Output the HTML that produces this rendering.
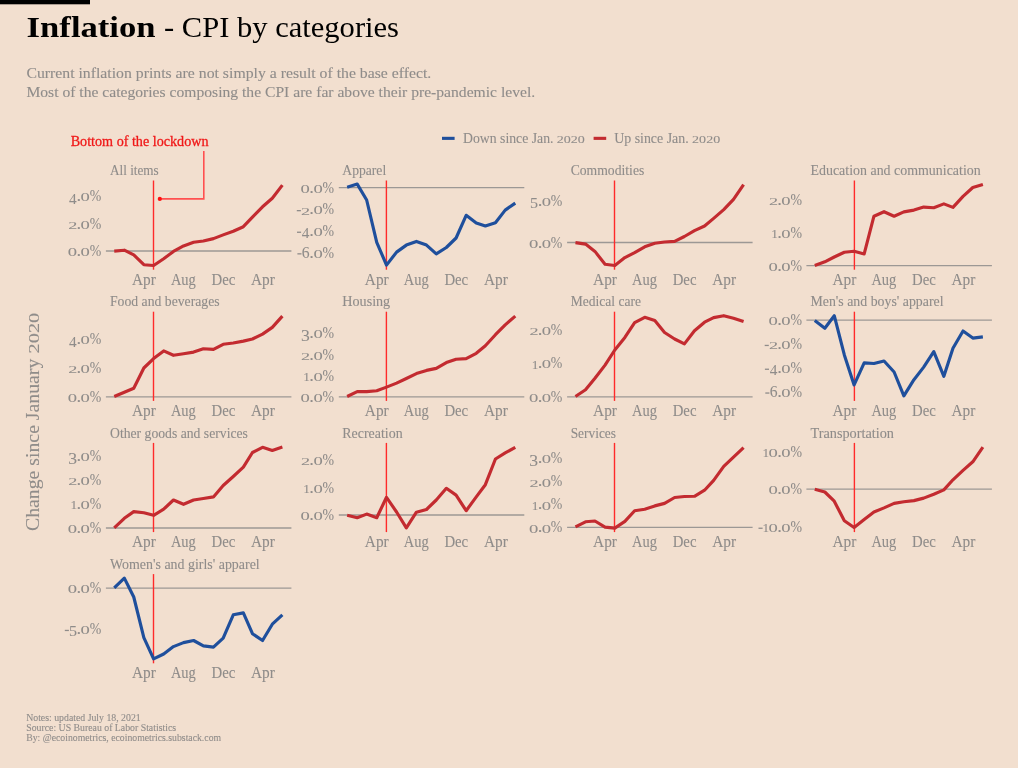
<!DOCTYPE html><html><head><meta charset="utf-8"><style>html,body{margin:0;padding:0;background:#f2dfcf;overflow:hidden}svg{display:block;will-change:transform}</style></head><body>
<svg width="1018" height="768" viewBox="0 0 1018 768" font-family="&quot;Liberation Serif&quot;, serif">
<rect x="0" y="0" width="1018" height="768" fill="#f2dfcf"/>
<rect x="0" y="0" width="90" height="4.3" fill="#000"/>
<text x="26.6" y="36.9" font-size="30.4" font-weight="bold" fill="#000" textLength="129" lengthAdjust="spacingAndGlyphs">Inflation</text>
<text x="164" y="36.9" font-size="30.4" fill="#000" textLength="235" lengthAdjust="spacingAndGlyphs">- CPI by categories</text>
<text x="26.4" y="77.9" font-size="14.9" fill="#8f8c8a" stroke="#8f8c8a" stroke-width="0.1" textLength="404.9" lengthAdjust="spacingAndGlyphs">Current inflation prints are not simply a result of the base effect.</text>
<text x="26.4" y="97" font-size="14.9" fill="#8f8c8a" stroke="#8f8c8a" stroke-width="0.1" textLength="508.8" lengthAdjust="spacingAndGlyphs">Most of the categories composing the CPI are far above their pre-pandemic level.</text>
<rect x="442" y="136.8" width="12.6" height="3.1" fill="#1f4f9c"/>
<text x="463" y="143" font-size="13.6" fill="#8f8c8a" stroke="#8f8c8a" stroke-width="0.1" textLength="90.5" lengthAdjust="spacingAndGlyphs">Down since Jan.</text>
<text transform="translate(556.8,143.2) scale(1,0.75)" font-size="13.6" fill="#8f8c8a" stroke="#8f8c8a" stroke-width="0.1" textLength="28.1" lengthAdjust="spacingAndGlyphs">2020</text>
<rect x="593.6" y="136.8" width="12.6" height="3.1" fill="#c32b30"/>
<text x="614.2" y="143" font-size="13.6" fill="#8f8c8a" stroke="#8f8c8a" stroke-width="0.1" textLength="74.5" lengthAdjust="spacingAndGlyphs">Up since Jan.</text>
<text transform="translate(692.1,143.2) scale(1,0.75)" font-size="13.6" fill="#8f8c8a" stroke="#8f8c8a" stroke-width="0.1" textLength="28.1" lengthAdjust="spacingAndGlyphs">2020</text>
<text x="70.7" y="145.7" font-size="14.3" fill="#f01818" stroke="#f01818" stroke-width="0.3" textLength="137.8" lengthAdjust="spacingAndGlyphs">Bottom of the lockdown</text>
<polyline points="159.8,198.9 203.8,198.9 203.8,150.9" fill="none" stroke="#ff5050" stroke-width="1.6"/>
<circle cx="159.8" cy="198.9" r="2.1" fill="#ff1010"/>
<text transform="translate(39,531) rotate(-90)" x="0" y="0" font-size="18.3" fill="#8f8c8a" stroke="#8f8c8a" stroke-width="0.1" textLength="172.3" lengthAdjust="spacingAndGlyphs">Change since January</text>
<text transform="translate(39,353.4) rotate(-90) scale(1,0.81)" x="0" y="0" font-size="18.3" fill="#8f8c8a" stroke="#8f8c8a" stroke-width="0.1" textLength="40.6" lengthAdjust="spacingAndGlyphs">2020</text>
<text x="26.2" y="721.1" font-size="10.4" fill="#8f8c8a" stroke="#8f8c8a" stroke-width="0.1" textLength="114.5" lengthAdjust="spacingAndGlyphs">Notes: updated July 18, 2021</text>
<text x="26.2" y="730.8" font-size="10.4" fill="#8f8c8a" stroke="#8f8c8a" stroke-width="0.1" textLength="149.9" lengthAdjust="spacingAndGlyphs">Source: US Bureau of Labor Statistics</text>
<text x="26.2" y="740.5" font-size="10.4" fill="#8f8c8a" stroke="#8f8c8a" stroke-width="0.1" textLength="194.9" lengthAdjust="spacingAndGlyphs">By: @ecoinometrics, ecoinometrics.substack.com</text>
<text x="110.0" y="175.1" font-size="13.75" fill="#8f8c8a" stroke="#8f8c8a" stroke-width="0.1" textLength="48.7" lengthAdjust="spacingAndGlyphs">All items</text>
<line x1="105.9" y1="251.0" x2="291.4" y2="251.0" stroke="#9c9895" stroke-width="1.3"/>
<text transform="matrix(0.1386,0,0,0.1578,89.73,256.19)" font-size="100" fill="#8f8c8a" stroke="#8f8c8a" stroke-width="0.406">%</text><text transform="matrix(0.1864,0,0,0.1215,80.59,256.28)" font-size="100" fill="#8f8c8a" stroke="#8f8c8a" stroke-width="0.399">0</text><text transform="matrix(0.1862,0,0,0.1777,76.57,256.15)" font-size="100" fill="#8f8c8a" stroke="#8f8c8a" stroke-width="0.330">.</text><text transform="matrix(0.1864,0,0,0.1215,67.79,256.28)" font-size="100" fill="#8f8c8a" stroke="#8f8c8a" stroke-width="0.399">0</text>
<text transform="matrix(0.1386,0,0,0.1578,89.73,228.69)" font-size="100" fill="#8f8c8a" stroke="#8f8c8a" stroke-width="0.406">%</text><text transform="matrix(0.1864,0,0,0.1215,80.59,228.78)" font-size="100" fill="#8f8c8a" stroke="#8f8c8a" stroke-width="0.399">0</text><text transform="matrix(0.1862,0,0,0.1777,76.57,228.65)" font-size="100" fill="#8f8c8a" stroke="#8f8c8a" stroke-width="0.330">.</text><text transform="matrix(0.1821,0,0,0.1133,68.30,228.90)" font-size="100" fill="#8f8c8a" stroke="#8f8c8a" stroke-width="0.418">2</text>
<text transform="matrix(0.1386,0,0,0.1578,89.73,201.19)" font-size="100" fill="#8f8c8a" stroke="#8f8c8a" stroke-width="0.406">%</text><text transform="matrix(0.1864,0,0,0.1215,80.59,201.28)" font-size="100" fill="#8f8c8a" stroke="#8f8c8a" stroke-width="0.399">0</text><text transform="matrix(0.1862,0,0,0.1777,76.57,201.15)" font-size="100" fill="#8f8c8a" stroke="#8f8c8a" stroke-width="0.330">.</text><text transform="matrix(0.1527,0,0,0.1550,69.00,203.50)" font-size="100" fill="#8f8c8a" stroke="#8f8c8a" stroke-width="0.390">4</text>
<text x="131.9" y="284.6" font-size="16.3" fill="#8f8c8a" stroke="#8f8c8a" stroke-width="0.1" textLength="23.9" lengthAdjust="spacingAndGlyphs">Apr</text>
<text x="170.9" y="284.6" font-size="16.3" fill="#8f8c8a" stroke="#8f8c8a" stroke-width="0.1" textLength="24.9" lengthAdjust="spacingAndGlyphs">Aug</text>
<text x="211.5" y="284.6" font-size="16.3" fill="#8f8c8a" stroke="#8f8c8a" stroke-width="0.1" textLength="23.8" lengthAdjust="spacingAndGlyphs">Dec</text>
<text x="251.0" y="284.6" font-size="16.3" fill="#8f8c8a" stroke="#8f8c8a" stroke-width="0.1" textLength="23.9" lengthAdjust="spacingAndGlyphs">Apr</text>
<line x1="153.5" y1="180.5" x2="153.5" y2="269.7" stroke="#ff2a2a" stroke-width="1.4"/>
<polyline points="114.25,251.10 124.33,250.20 133.76,254.90 143.84,264.70 153.60,265.50 163.68,258.80 173.44,251.40 183.52,245.90 193.60,242.30 203.36,241.00 213.44,238.60 223.19,234.90 233.27,231.20 243.36,226.70 252.46,217.20 262.54,206.80 272.30,198.20 282.38,185.10" fill="none" stroke="#c32b30" stroke-width="3.15" stroke-linejoin="round" stroke-linecap="butt"/>
<text x="342.3" y="175.1" font-size="13.75" fill="#8f8c8a" stroke="#8f8c8a" stroke-width="0.1" textLength="43.9" lengthAdjust="spacingAndGlyphs">Apparel</text>
<line x1="338.8" y1="187.6" x2="524.3" y2="187.6" stroke="#9c9895" stroke-width="1.3"/>
<text transform="matrix(0.1386,0,0,0.1578,322.53,192.79)" font-size="100" fill="#8f8c8a" stroke="#8f8c8a" stroke-width="0.406">%</text><text transform="matrix(0.1864,0,0,0.1215,313.39,192.88)" font-size="100" fill="#8f8c8a" stroke="#8f8c8a" stroke-width="0.399">0</text><text transform="matrix(0.1862,0,0,0.1777,309.37,192.75)" font-size="100" fill="#8f8c8a" stroke="#8f8c8a" stroke-width="0.330">.</text><text transform="matrix(0.1864,0,0,0.1215,300.59,192.88)" font-size="100" fill="#8f8c8a" stroke="#8f8c8a" stroke-width="0.399">0</text>
<text transform="matrix(0.1386,0,0,0.1578,322.53,214.39)" font-size="100" fill="#8f8c8a" stroke="#8f8c8a" stroke-width="0.406">%</text><text transform="matrix(0.1864,0,0,0.1215,313.39,214.48)" font-size="100" fill="#8f8c8a" stroke="#8f8c8a" stroke-width="0.399">0</text><text transform="matrix(0.1862,0,0,0.1777,309.37,214.35)" font-size="100" fill="#8f8c8a" stroke="#8f8c8a" stroke-width="0.330">.</text><text transform="matrix(0.1821,0,0,0.1133,301.10,214.60)" font-size="100" fill="#8f8c8a" stroke="#8f8c8a" stroke-width="0.418">2</text><rect x="296.80" y="210.00" width="4.1" height="1.3" fill="#8f8c8a"/>
<text transform="matrix(0.1386,0,0,0.1578,322.53,235.99)" font-size="100" fill="#8f8c8a" stroke="#8f8c8a" stroke-width="0.406">%</text><text transform="matrix(0.1864,0,0,0.1215,313.39,236.08)" font-size="100" fill="#8f8c8a" stroke="#8f8c8a" stroke-width="0.399">0</text><text transform="matrix(0.1862,0,0,0.1777,309.37,235.95)" font-size="100" fill="#8f8c8a" stroke="#8f8c8a" stroke-width="0.330">.</text><text transform="matrix(0.1527,0,0,0.1550,301.80,238.30)" font-size="100" fill="#8f8c8a" stroke="#8f8c8a" stroke-width="0.390">4</text><rect x="297.00" y="231.60" width="4.1" height="1.3" fill="#8f8c8a"/>
<text transform="matrix(0.1386,0,0,0.1578,322.53,257.59)" font-size="100" fill="#8f8c8a" stroke="#8f8c8a" stroke-width="0.406">%</text><text transform="matrix(0.1864,0,0,0.1215,313.39,257.68)" font-size="100" fill="#8f8c8a" stroke="#8f8c8a" stroke-width="0.399">0</text><text transform="matrix(0.1862,0,0,0.1777,309.37,257.55)" font-size="100" fill="#8f8c8a" stroke="#8f8c8a" stroke-width="0.330">.</text><text transform="matrix(0.1568,0,0,0.1607,301.83,257.64)" font-size="100" fill="#8f8c8a" stroke="#8f8c8a" stroke-width="0.378">6</text><rect x="297.40" y="253.20" width="4.1" height="1.3" fill="#8f8c8a"/>
<text x="364.8" y="284.6" font-size="16.3" fill="#8f8c8a" stroke="#8f8c8a" stroke-width="0.1" textLength="23.9" lengthAdjust="spacingAndGlyphs">Apr</text>
<text x="403.8" y="284.6" font-size="16.3" fill="#8f8c8a" stroke="#8f8c8a" stroke-width="0.1" textLength="24.9" lengthAdjust="spacingAndGlyphs">Aug</text>
<text x="444.4" y="284.6" font-size="16.3" fill="#8f8c8a" stroke="#8f8c8a" stroke-width="0.1" textLength="23.8" lengthAdjust="spacingAndGlyphs">Dec</text>
<text x="483.9" y="284.6" font-size="16.3" fill="#8f8c8a" stroke="#8f8c8a" stroke-width="0.1" textLength="23.9" lengthAdjust="spacingAndGlyphs">Apr</text>
<line x1="386.4" y1="180.5" x2="386.4" y2="269.7" stroke="#ff2a2a" stroke-width="1.4"/>
<polyline points="347.15,187.20 357.23,184.10 366.66,200.00 376.74,242.30 386.50,265.10 396.58,252.10 406.34,245.10 416.42,241.40 426.50,245.10 436.26,253.90 446.34,247.50 456.09,238.00 466.17,215.30 476.26,223.00 485.36,226.00 495.44,222.70 505.20,210.10 515.28,203.10" fill="none" stroke="#1f4f9c" stroke-width="3.15" stroke-linejoin="round" stroke-linecap="butt"/>
<text x="570.7" y="175.1" font-size="13.75" fill="#8f8c8a" stroke="#8f8c8a" stroke-width="0.1" textLength="73.6" lengthAdjust="spacingAndGlyphs">Commodities</text>
<line x1="567.1" y1="242.5" x2="752.6" y2="242.5" stroke="#9c9895" stroke-width="1.3"/>
<text transform="matrix(0.1386,0,0,0.1578,550.83,247.69)" font-size="100" fill="#8f8c8a" stroke="#8f8c8a" stroke-width="0.406">%</text><text transform="matrix(0.1864,0,0,0.1215,541.69,247.78)" font-size="100" fill="#8f8c8a" stroke="#8f8c8a" stroke-width="0.399">0</text><text transform="matrix(0.1862,0,0,0.1777,537.67,247.65)" font-size="100" fill="#8f8c8a" stroke="#8f8c8a" stroke-width="0.330">.</text><text transform="matrix(0.1864,0,0,0.1215,528.89,247.78)" font-size="100" fill="#8f8c8a" stroke="#8f8c8a" stroke-width="0.399">0</text>
<text transform="matrix(0.1386,0,0,0.1578,550.83,205.99)" font-size="100" fill="#8f8c8a" stroke="#8f8c8a" stroke-width="0.406">%</text><text transform="matrix(0.1864,0,0,0.1215,541.69,206.08)" font-size="100" fill="#8f8c8a" stroke="#8f8c8a" stroke-width="0.399">0</text><text transform="matrix(0.1862,0,0,0.1777,537.67,205.95)" font-size="100" fill="#8f8c8a" stroke="#8f8c8a" stroke-width="0.330">.</text><text transform="matrix(0.1614,0,0,0.1505,530.06,208.15)" font-size="100" fill="#8f8c8a" stroke="#8f8c8a" stroke-width="0.385">5</text>
<text x="593.1" y="284.6" font-size="16.3" fill="#8f8c8a" stroke="#8f8c8a" stroke-width="0.1" textLength="23.9" lengthAdjust="spacingAndGlyphs">Apr</text>
<text x="632.1" y="284.6" font-size="16.3" fill="#8f8c8a" stroke="#8f8c8a" stroke-width="0.1" textLength="24.9" lengthAdjust="spacingAndGlyphs">Aug</text>
<text x="672.7" y="284.6" font-size="16.3" fill="#8f8c8a" stroke="#8f8c8a" stroke-width="0.1" textLength="23.8" lengthAdjust="spacingAndGlyphs">Dec</text>
<text x="712.2" y="284.6" font-size="16.3" fill="#8f8c8a" stroke="#8f8c8a" stroke-width="0.1" textLength="23.9" lengthAdjust="spacingAndGlyphs">Apr</text>
<line x1="614.5" y1="180.5" x2="614.5" y2="269.7" stroke="#ff2a2a" stroke-width="1.4"/>
<polyline points="575.45,242.60 585.53,244.10 594.96,251.40 605.04,264.30 614.80,265.50 624.88,257.60 634.64,252.70 644.72,246.80 654.80,243.20 664.56,242.00 674.64,241.40 684.39,236.50 694.47,230.60 704.56,226.00 713.66,218.40 723.74,209.60 733.50,199.40 743.58,184.70" fill="none" stroke="#c32b30" stroke-width="3.15" stroke-linejoin="round" stroke-linecap="butt"/>
<text x="810.5" y="175.1" font-size="13.75" fill="#8f8c8a" stroke="#8f8c8a" stroke-width="0.1" textLength="170.2" lengthAdjust="spacingAndGlyphs">Education and communication</text>
<line x1="806.4" y1="265.6" x2="991.9" y2="265.6" stroke="#9c9895" stroke-width="1.3"/>
<text transform="matrix(0.1386,0,0,0.1578,790.43,270.79)" font-size="100" fill="#8f8c8a" stroke="#8f8c8a" stroke-width="0.406">%</text><text transform="matrix(0.1864,0,0,0.1215,781.29,270.88)" font-size="100" fill="#8f8c8a" stroke="#8f8c8a" stroke-width="0.399">0</text><text transform="matrix(0.1862,0,0,0.1777,777.27,270.75)" font-size="100" fill="#8f8c8a" stroke="#8f8c8a" stroke-width="0.330">.</text><text transform="matrix(0.1864,0,0,0.1215,768.49,270.88)" font-size="100" fill="#8f8c8a" stroke="#8f8c8a" stroke-width="0.399">0</text>
<text transform="matrix(0.1386,0,0,0.1578,790.43,237.74)" font-size="100" fill="#8f8c8a" stroke="#8f8c8a" stroke-width="0.406">%</text><text transform="matrix(0.1864,0,0,0.1215,781.29,237.83)" font-size="100" fill="#8f8c8a" stroke="#8f8c8a" stroke-width="0.399">0</text><text transform="matrix(0.1862,0,0,0.1777,777.27,237.70)" font-size="100" fill="#8f8c8a" stroke="#8f8c8a" stroke-width="0.330">.</text><text transform="matrix(0.1335,0,0,0.1212,771.23,237.95)" font-size="100" fill="#8f8c8a" stroke="#8f8c8a" stroke-width="0.472">1</text>
<text transform="matrix(0.1386,0,0,0.1578,790.43,204.69)" font-size="100" fill="#8f8c8a" stroke="#8f8c8a" stroke-width="0.406">%</text><text transform="matrix(0.1864,0,0,0.1215,781.29,204.78)" font-size="100" fill="#8f8c8a" stroke="#8f8c8a" stroke-width="0.399">0</text><text transform="matrix(0.1862,0,0,0.1777,777.27,204.65)" font-size="100" fill="#8f8c8a" stroke="#8f8c8a" stroke-width="0.330">.</text><text transform="matrix(0.1821,0,0,0.1133,769.00,204.90)" font-size="100" fill="#8f8c8a" stroke="#8f8c8a" stroke-width="0.418">2</text>
<text x="832.4" y="284.6" font-size="16.3" fill="#8f8c8a" stroke="#8f8c8a" stroke-width="0.1" textLength="23.9" lengthAdjust="spacingAndGlyphs">Apr</text>
<text x="871.4" y="284.6" font-size="16.3" fill="#8f8c8a" stroke="#8f8c8a" stroke-width="0.1" textLength="24.9" lengthAdjust="spacingAndGlyphs">Aug</text>
<text x="912.0" y="284.6" font-size="16.3" fill="#8f8c8a" stroke="#8f8c8a" stroke-width="0.1" textLength="23.8" lengthAdjust="spacingAndGlyphs">Dec</text>
<text x="951.5" y="284.6" font-size="16.3" fill="#8f8c8a" stroke="#8f8c8a" stroke-width="0.1" textLength="23.9" lengthAdjust="spacingAndGlyphs">Apr</text>
<line x1="854.4" y1="180.5" x2="854.4" y2="269.7" stroke="#ff2a2a" stroke-width="1.4"/>
<polyline points="814.75,265.50 824.83,261.80 834.26,257.00 844.34,252.30 854.10,251.20 864.18,253.90 873.94,216.20 884.02,211.70 894.10,216.20 903.86,211.90 913.94,210.10 923.69,207.10 933.77,207.70 943.86,203.90 952.96,207.40 963.04,196.40 972.80,187.50 982.88,184.40" fill="none" stroke="#c32b30" stroke-width="3.15" stroke-linejoin="round" stroke-linecap="butt"/>
<text x="110.0" y="306.3" font-size="13.75" fill="#8f8c8a" stroke="#8f8c8a" stroke-width="0.1" textLength="109.6" lengthAdjust="spacingAndGlyphs">Food and beverages</text>
<line x1="105.9" y1="396.8" x2="291.4" y2="396.8" stroke="#9c9895" stroke-width="1.3"/>
<text transform="matrix(0.1386,0,0,0.1578,89.73,401.99)" font-size="100" fill="#8f8c8a" stroke="#8f8c8a" stroke-width="0.406">%</text><text transform="matrix(0.1864,0,0,0.1215,80.59,402.08)" font-size="100" fill="#8f8c8a" stroke="#8f8c8a" stroke-width="0.399">0</text><text transform="matrix(0.1862,0,0,0.1777,76.57,401.95)" font-size="100" fill="#8f8c8a" stroke="#8f8c8a" stroke-width="0.330">.</text><text transform="matrix(0.1864,0,0,0.1215,67.79,402.08)" font-size="100" fill="#8f8c8a" stroke="#8f8c8a" stroke-width="0.399">0</text>
<text transform="matrix(0.1386,0,0,0.1578,89.73,373.14)" font-size="100" fill="#8f8c8a" stroke="#8f8c8a" stroke-width="0.406">%</text><text transform="matrix(0.1864,0,0,0.1215,80.59,373.23)" font-size="100" fill="#8f8c8a" stroke="#8f8c8a" stroke-width="0.399">0</text><text transform="matrix(0.1862,0,0,0.1777,76.57,373.10)" font-size="100" fill="#8f8c8a" stroke="#8f8c8a" stroke-width="0.330">.</text><text transform="matrix(0.1821,0,0,0.1133,68.30,373.35)" font-size="100" fill="#8f8c8a" stroke="#8f8c8a" stroke-width="0.418">2</text>
<text transform="matrix(0.1386,0,0,0.1578,89.73,344.29)" font-size="100" fill="#8f8c8a" stroke="#8f8c8a" stroke-width="0.406">%</text><text transform="matrix(0.1864,0,0,0.1215,80.59,344.38)" font-size="100" fill="#8f8c8a" stroke="#8f8c8a" stroke-width="0.399">0</text><text transform="matrix(0.1862,0,0,0.1777,76.57,344.25)" font-size="100" fill="#8f8c8a" stroke="#8f8c8a" stroke-width="0.330">.</text><text transform="matrix(0.1527,0,0,0.1550,69.00,346.60)" font-size="100" fill="#8f8c8a" stroke="#8f8c8a" stroke-width="0.390">4</text>
<text x="131.9" y="415.8" font-size="16.3" fill="#8f8c8a" stroke="#8f8c8a" stroke-width="0.1" textLength="23.9" lengthAdjust="spacingAndGlyphs">Apr</text>
<text x="170.9" y="415.8" font-size="16.3" fill="#8f8c8a" stroke="#8f8c8a" stroke-width="0.1" textLength="24.9" lengthAdjust="spacingAndGlyphs">Aug</text>
<text x="211.5" y="415.8" font-size="16.3" fill="#8f8c8a" stroke="#8f8c8a" stroke-width="0.1" textLength="23.8" lengthAdjust="spacingAndGlyphs">Dec</text>
<text x="251.0" y="415.8" font-size="16.3" fill="#8f8c8a" stroke="#8f8c8a" stroke-width="0.1" textLength="23.9" lengthAdjust="spacingAndGlyphs">Apr</text>
<line x1="153.5" y1="311.7" x2="153.5" y2="400.9" stroke="#ff2a2a" stroke-width="1.4"/>
<polyline points="114.25,396.50 124.33,392.20 133.76,388.30 143.84,368.00 153.60,358.60 163.68,350.90 173.44,355.30 183.52,353.70 193.60,352.10 203.36,348.80 213.44,349.40 223.19,344.30 233.27,343.00 243.36,341.10 252.46,339.00 262.54,334.10 272.30,327.40 282.38,316.10" fill="none" stroke="#c32b30" stroke-width="3.15" stroke-linejoin="round" stroke-linecap="butt"/>
<text x="342.3" y="306.3" font-size="13.75" fill="#8f8c8a" stroke="#8f8c8a" stroke-width="0.1" textLength="47.9" lengthAdjust="spacingAndGlyphs">Housing</text>
<line x1="338.8" y1="396.8" x2="524.3" y2="396.8" stroke="#9c9895" stroke-width="1.3"/>
<text transform="matrix(0.1386,0,0,0.1578,322.53,401.99)" font-size="100" fill="#8f8c8a" stroke="#8f8c8a" stroke-width="0.406">%</text><text transform="matrix(0.1864,0,0,0.1215,313.39,402.08)" font-size="100" fill="#8f8c8a" stroke="#8f8c8a" stroke-width="0.399">0</text><text transform="matrix(0.1862,0,0,0.1777,309.37,401.95)" font-size="100" fill="#8f8c8a" stroke="#8f8c8a" stroke-width="0.330">.</text><text transform="matrix(0.1864,0,0,0.1215,300.59,402.08)" font-size="100" fill="#8f8c8a" stroke="#8f8c8a" stroke-width="0.399">0</text>
<text transform="matrix(0.1386,0,0,0.1578,322.53,380.79)" font-size="100" fill="#8f8c8a" stroke="#8f8c8a" stroke-width="0.406">%</text><text transform="matrix(0.1864,0,0,0.1215,313.39,380.88)" font-size="100" fill="#8f8c8a" stroke="#8f8c8a" stroke-width="0.399">0</text><text transform="matrix(0.1862,0,0,0.1777,309.37,380.75)" font-size="100" fill="#8f8c8a" stroke="#8f8c8a" stroke-width="0.330">.</text><text transform="matrix(0.1335,0,0,0.1212,303.33,381.00)" font-size="100" fill="#8f8c8a" stroke="#8f8c8a" stroke-width="0.472">1</text>
<text transform="matrix(0.1386,0,0,0.1578,322.53,359.59)" font-size="100" fill="#8f8c8a" stroke="#8f8c8a" stroke-width="0.406">%</text><text transform="matrix(0.1864,0,0,0.1215,313.39,359.68)" font-size="100" fill="#8f8c8a" stroke="#8f8c8a" stroke-width="0.399">0</text><text transform="matrix(0.1862,0,0,0.1777,309.37,359.55)" font-size="100" fill="#8f8c8a" stroke="#8f8c8a" stroke-width="0.330">.</text><text transform="matrix(0.1821,0,0,0.1133,301.10,359.80)" font-size="100" fill="#8f8c8a" stroke="#8f8c8a" stroke-width="0.418">2</text>
<text transform="matrix(0.1386,0,0,0.1578,322.53,338.39)" font-size="100" fill="#8f8c8a" stroke="#8f8c8a" stroke-width="0.406">%</text><text transform="matrix(0.1864,0,0,0.1215,313.39,338.48)" font-size="100" fill="#8f8c8a" stroke="#8f8c8a" stroke-width="0.399">0</text><text transform="matrix(0.1862,0,0,0.1777,309.37,338.35)" font-size="100" fill="#8f8c8a" stroke="#8f8c8a" stroke-width="0.330">.</text><text transform="matrix(0.1767,0,0,0.1637,301.05,340.84)" font-size="100" fill="#8f8c8a" stroke="#8f8c8a" stroke-width="0.353">3</text>
<text x="364.8" y="415.8" font-size="16.3" fill="#8f8c8a" stroke="#8f8c8a" stroke-width="0.1" textLength="23.9" lengthAdjust="spacingAndGlyphs">Apr</text>
<text x="403.8" y="415.8" font-size="16.3" fill="#8f8c8a" stroke="#8f8c8a" stroke-width="0.1" textLength="24.9" lengthAdjust="spacingAndGlyphs">Aug</text>
<text x="444.4" y="415.8" font-size="16.3" fill="#8f8c8a" stroke="#8f8c8a" stroke-width="0.1" textLength="23.8" lengthAdjust="spacingAndGlyphs">Dec</text>
<text x="483.9" y="415.8" font-size="16.3" fill="#8f8c8a" stroke="#8f8c8a" stroke-width="0.1" textLength="23.9" lengthAdjust="spacingAndGlyphs">Apr</text>
<line x1="386.4" y1="311.7" x2="386.4" y2="400.9" stroke="#ff2a2a" stroke-width="1.4"/>
<polyline points="347.15,396.50 357.23,391.60 366.66,391.60 376.74,390.80 386.50,387.10 396.58,383.10 406.34,378.50 416.42,373.60 426.50,370.40 436.26,368.40 446.34,362.60 456.09,359.20 466.17,358.60 476.26,353.30 485.36,345.70 495.44,334.70 505.20,324.90 515.28,316.10" fill="none" stroke="#c32b30" stroke-width="3.15" stroke-linejoin="round" stroke-linecap="butt"/>
<text x="570.7" y="306.3" font-size="13.75" fill="#8f8c8a" stroke="#8f8c8a" stroke-width="0.1" textLength="70.3" lengthAdjust="spacingAndGlyphs">Medical care</text>
<line x1="567.1" y1="396.8" x2="752.6" y2="396.8" stroke="#9c9895" stroke-width="1.3"/>
<text transform="matrix(0.1386,0,0,0.1578,550.83,401.99)" font-size="100" fill="#8f8c8a" stroke="#8f8c8a" stroke-width="0.406">%</text><text transform="matrix(0.1864,0,0,0.1215,541.69,402.08)" font-size="100" fill="#8f8c8a" stroke="#8f8c8a" stroke-width="0.399">0</text><text transform="matrix(0.1862,0,0,0.1777,537.67,401.95)" font-size="100" fill="#8f8c8a" stroke="#8f8c8a" stroke-width="0.330">.</text><text transform="matrix(0.1864,0,0,0.1215,528.89,402.08)" font-size="100" fill="#8f8c8a" stroke="#8f8c8a" stroke-width="0.399">0</text>
<text transform="matrix(0.1386,0,0,0.1578,550.83,368.39)" font-size="100" fill="#8f8c8a" stroke="#8f8c8a" stroke-width="0.406">%</text><text transform="matrix(0.1864,0,0,0.1215,541.69,368.48)" font-size="100" fill="#8f8c8a" stroke="#8f8c8a" stroke-width="0.399">0</text><text transform="matrix(0.1862,0,0,0.1777,537.67,368.35)" font-size="100" fill="#8f8c8a" stroke="#8f8c8a" stroke-width="0.330">.</text><text transform="matrix(0.1335,0,0,0.1212,531.63,368.60)" font-size="100" fill="#8f8c8a" stroke="#8f8c8a" stroke-width="0.472">1</text>
<text transform="matrix(0.1386,0,0,0.1578,550.83,334.79)" font-size="100" fill="#8f8c8a" stroke="#8f8c8a" stroke-width="0.406">%</text><text transform="matrix(0.1864,0,0,0.1215,541.69,334.88)" font-size="100" fill="#8f8c8a" stroke="#8f8c8a" stroke-width="0.399">0</text><text transform="matrix(0.1862,0,0,0.1777,537.67,334.75)" font-size="100" fill="#8f8c8a" stroke="#8f8c8a" stroke-width="0.330">.</text><text transform="matrix(0.1821,0,0,0.1133,529.40,335.00)" font-size="100" fill="#8f8c8a" stroke="#8f8c8a" stroke-width="0.418">2</text>
<text x="593.1" y="415.8" font-size="16.3" fill="#8f8c8a" stroke="#8f8c8a" stroke-width="0.1" textLength="23.9" lengthAdjust="spacingAndGlyphs">Apr</text>
<text x="632.1" y="415.8" font-size="16.3" fill="#8f8c8a" stroke="#8f8c8a" stroke-width="0.1" textLength="24.9" lengthAdjust="spacingAndGlyphs">Aug</text>
<text x="672.7" y="415.8" font-size="16.3" fill="#8f8c8a" stroke="#8f8c8a" stroke-width="0.1" textLength="23.8" lengthAdjust="spacingAndGlyphs">Dec</text>
<text x="712.2" y="415.8" font-size="16.3" fill="#8f8c8a" stroke="#8f8c8a" stroke-width="0.1" textLength="23.9" lengthAdjust="spacingAndGlyphs">Apr</text>
<line x1="614.5" y1="311.7" x2="614.5" y2="400.9" stroke="#ff2a2a" stroke-width="1.4"/>
<polyline points="575.45,396.50 585.53,389.80 594.96,378.20 605.04,365.10 614.80,350.00 624.88,337.40 634.64,322.70 644.72,317.30 654.80,320.60 664.56,332.50 674.64,339.00 684.39,343.90 694.47,330.80 704.56,322.20 713.66,317.60 723.74,315.70 733.50,318.20 743.58,321.50" fill="none" stroke="#c32b30" stroke-width="3.15" stroke-linejoin="round" stroke-linecap="butt"/>
<text x="810.5" y="306.3" font-size="13.75" fill="#8f8c8a" stroke="#8f8c8a" stroke-width="0.1" textLength="133.0" lengthAdjust="spacingAndGlyphs">Men&#39;s and boys&#39; apparel</text>
<line x1="806.4" y1="320.2" x2="991.9" y2="320.2" stroke="#9c9895" stroke-width="1.3"/>
<text transform="matrix(0.1386,0,0,0.1578,790.43,325.39)" font-size="100" fill="#8f8c8a" stroke="#8f8c8a" stroke-width="0.406">%</text><text transform="matrix(0.1864,0,0,0.1215,781.29,325.48)" font-size="100" fill="#8f8c8a" stroke="#8f8c8a" stroke-width="0.399">0</text><text transform="matrix(0.1862,0,0,0.1777,777.27,325.35)" font-size="100" fill="#8f8c8a" stroke="#8f8c8a" stroke-width="0.330">.</text><text transform="matrix(0.1864,0,0,0.1215,768.49,325.48)" font-size="100" fill="#8f8c8a" stroke="#8f8c8a" stroke-width="0.399">0</text>
<text transform="matrix(0.1386,0,0,0.1578,790.43,349.19)" font-size="100" fill="#8f8c8a" stroke="#8f8c8a" stroke-width="0.406">%</text><text transform="matrix(0.1864,0,0,0.1215,781.29,349.28)" font-size="100" fill="#8f8c8a" stroke="#8f8c8a" stroke-width="0.399">0</text><text transform="matrix(0.1862,0,0,0.1777,777.27,349.15)" font-size="100" fill="#8f8c8a" stroke="#8f8c8a" stroke-width="0.330">.</text><text transform="matrix(0.1821,0,0,0.1133,769.00,349.40)" font-size="100" fill="#8f8c8a" stroke="#8f8c8a" stroke-width="0.418">2</text><rect x="764.70" y="344.80" width="4.1" height="1.3" fill="#8f8c8a"/>
<text transform="matrix(0.1386,0,0,0.1578,790.43,372.99)" font-size="100" fill="#8f8c8a" stroke="#8f8c8a" stroke-width="0.406">%</text><text transform="matrix(0.1864,0,0,0.1215,781.29,373.08)" font-size="100" fill="#8f8c8a" stroke="#8f8c8a" stroke-width="0.399">0</text><text transform="matrix(0.1862,0,0,0.1777,777.27,372.95)" font-size="100" fill="#8f8c8a" stroke="#8f8c8a" stroke-width="0.330">.</text><text transform="matrix(0.1527,0,0,0.1550,769.70,375.30)" font-size="100" fill="#8f8c8a" stroke="#8f8c8a" stroke-width="0.390">4</text><rect x="764.90" y="368.60" width="4.1" height="1.3" fill="#8f8c8a"/>
<text transform="matrix(0.1386,0,0,0.1578,790.43,396.79)" font-size="100" fill="#8f8c8a" stroke="#8f8c8a" stroke-width="0.406">%</text><text transform="matrix(0.1864,0,0,0.1215,781.29,396.88)" font-size="100" fill="#8f8c8a" stroke="#8f8c8a" stroke-width="0.399">0</text><text transform="matrix(0.1862,0,0,0.1777,777.27,396.75)" font-size="100" fill="#8f8c8a" stroke="#8f8c8a" stroke-width="0.330">.</text><text transform="matrix(0.1568,0,0,0.1607,769.73,396.84)" font-size="100" fill="#8f8c8a" stroke="#8f8c8a" stroke-width="0.378">6</text><rect x="765.30" y="392.40" width="4.1" height="1.3" fill="#8f8c8a"/>
<text x="832.4" y="415.8" font-size="16.3" fill="#8f8c8a" stroke="#8f8c8a" stroke-width="0.1" textLength="23.9" lengthAdjust="spacingAndGlyphs">Apr</text>
<text x="871.4" y="415.8" font-size="16.3" fill="#8f8c8a" stroke="#8f8c8a" stroke-width="0.1" textLength="24.9" lengthAdjust="spacingAndGlyphs">Aug</text>
<text x="912.0" y="415.8" font-size="16.3" fill="#8f8c8a" stroke="#8f8c8a" stroke-width="0.1" textLength="23.8" lengthAdjust="spacingAndGlyphs">Dec</text>
<text x="951.5" y="415.8" font-size="16.3" fill="#8f8c8a" stroke="#8f8c8a" stroke-width="0.1" textLength="23.9" lengthAdjust="spacingAndGlyphs">Apr</text>
<line x1="854.4" y1="311.7" x2="854.4" y2="400.9" stroke="#ff2a2a" stroke-width="1.4"/>
<polyline points="814.75,320.60 824.83,328.30 834.26,315.70 844.34,354.90 854.10,384.90 864.18,362.90 873.94,363.50 884.02,361.00 894.10,372.00 903.86,395.90 913.94,379.70 923.69,367.10 933.77,351.60 943.86,376.30 952.96,348.20 963.04,331.00 972.80,338.10 982.88,336.90" fill="none" stroke="#1f4f9c" stroke-width="3.15" stroke-linejoin="round" stroke-linecap="butt"/>
<text x="110.0" y="437.5" font-size="13.75" fill="#8f8c8a" stroke="#8f8c8a" stroke-width="0.1" textLength="137.9" lengthAdjust="spacingAndGlyphs">Other goods and services</text>
<line x1="105.9" y1="528.0" x2="291.4" y2="528.0" stroke="#9c9895" stroke-width="1.3"/>
<text transform="matrix(0.1386,0,0,0.1578,89.73,533.19)" font-size="100" fill="#8f8c8a" stroke="#8f8c8a" stroke-width="0.406">%</text><text transform="matrix(0.1864,0,0,0.1215,80.59,533.28)" font-size="100" fill="#8f8c8a" stroke="#8f8c8a" stroke-width="0.399">0</text><text transform="matrix(0.1862,0,0,0.1777,76.57,533.15)" font-size="100" fill="#8f8c8a" stroke="#8f8c8a" stroke-width="0.330">.</text><text transform="matrix(0.1864,0,0,0.1215,67.79,533.28)" font-size="100" fill="#8f8c8a" stroke="#8f8c8a" stroke-width="0.399">0</text>
<text transform="matrix(0.1386,0,0,0.1578,89.73,509.23)" font-size="100" fill="#8f8c8a" stroke="#8f8c8a" stroke-width="0.406">%</text><text transform="matrix(0.1864,0,0,0.1215,80.59,509.32)" font-size="100" fill="#8f8c8a" stroke="#8f8c8a" stroke-width="0.399">0</text><text transform="matrix(0.1862,0,0,0.1777,76.57,509.19)" font-size="100" fill="#8f8c8a" stroke="#8f8c8a" stroke-width="0.330">.</text><text transform="matrix(0.1335,0,0,0.1212,70.53,509.44)" font-size="100" fill="#8f8c8a" stroke="#8f8c8a" stroke-width="0.472">1</text>
<text transform="matrix(0.1386,0,0,0.1578,89.73,485.27)" font-size="100" fill="#8f8c8a" stroke="#8f8c8a" stroke-width="0.406">%</text><text transform="matrix(0.1864,0,0,0.1215,80.59,485.36)" font-size="100" fill="#8f8c8a" stroke="#8f8c8a" stroke-width="0.399">0</text><text transform="matrix(0.1862,0,0,0.1777,76.57,485.23)" font-size="100" fill="#8f8c8a" stroke="#8f8c8a" stroke-width="0.330">.</text><text transform="matrix(0.1821,0,0,0.1133,68.30,485.48)" font-size="100" fill="#8f8c8a" stroke="#8f8c8a" stroke-width="0.418">2</text>
<text transform="matrix(0.1386,0,0,0.1578,89.73,461.31)" font-size="100" fill="#8f8c8a" stroke="#8f8c8a" stroke-width="0.406">%</text><text transform="matrix(0.1864,0,0,0.1215,80.59,461.40)" font-size="100" fill="#8f8c8a" stroke="#8f8c8a" stroke-width="0.399">0</text><text transform="matrix(0.1862,0,0,0.1777,76.57,461.27)" font-size="100" fill="#8f8c8a" stroke="#8f8c8a" stroke-width="0.330">.</text><text transform="matrix(0.1767,0,0,0.1637,68.25,463.76)" font-size="100" fill="#8f8c8a" stroke="#8f8c8a" stroke-width="0.353">3</text>
<text x="131.9" y="547.0" font-size="16.3" fill="#8f8c8a" stroke="#8f8c8a" stroke-width="0.1" textLength="23.9" lengthAdjust="spacingAndGlyphs">Apr</text>
<text x="170.9" y="547.0" font-size="16.3" fill="#8f8c8a" stroke="#8f8c8a" stroke-width="0.1" textLength="24.9" lengthAdjust="spacingAndGlyphs">Aug</text>
<text x="211.5" y="547.0" font-size="16.3" fill="#8f8c8a" stroke="#8f8c8a" stroke-width="0.1" textLength="23.8" lengthAdjust="spacingAndGlyphs">Dec</text>
<text x="251.0" y="547.0" font-size="16.3" fill="#8f8c8a" stroke="#8f8c8a" stroke-width="0.1" textLength="23.9" lengthAdjust="spacingAndGlyphs">Apr</text>
<line x1="153.5" y1="442.9" x2="153.5" y2="532.1" stroke="#ff2a2a" stroke-width="1.4"/>
<polyline points="114.25,527.90 124.33,518.30 133.76,511.60 143.84,512.80 153.60,515.30 163.68,509.20 173.44,500.00 183.52,504.30 193.60,500.00 203.36,498.50 213.44,496.90 223.19,485.50 233.27,476.50 243.36,467.20 252.46,452.50 262.54,447.30 272.30,450.40 282.38,447.10" fill="none" stroke="#c32b30" stroke-width="3.15" stroke-linejoin="round" stroke-linecap="butt"/>
<text x="342.3" y="437.5" font-size="13.75" fill="#8f8c8a" stroke="#8f8c8a" stroke-width="0.1" textLength="60.4" lengthAdjust="spacingAndGlyphs">Recreation</text>
<line x1="338.8" y1="515.0" x2="524.3" y2="515.0" stroke="#9c9895" stroke-width="1.3"/>
<text transform="matrix(0.1386,0,0,0.1578,322.53,520.19)" font-size="100" fill="#8f8c8a" stroke="#8f8c8a" stroke-width="0.406">%</text><text transform="matrix(0.1864,0,0,0.1215,313.39,520.28)" font-size="100" fill="#8f8c8a" stroke="#8f8c8a" stroke-width="0.399">0</text><text transform="matrix(0.1862,0,0,0.1777,309.37,520.15)" font-size="100" fill="#8f8c8a" stroke="#8f8c8a" stroke-width="0.330">.</text><text transform="matrix(0.1864,0,0,0.1215,300.59,520.28)" font-size="100" fill="#8f8c8a" stroke="#8f8c8a" stroke-width="0.399">0</text>
<text transform="matrix(0.1386,0,0,0.1578,322.53,492.59)" font-size="100" fill="#8f8c8a" stroke="#8f8c8a" stroke-width="0.406">%</text><text transform="matrix(0.1864,0,0,0.1215,313.39,492.68)" font-size="100" fill="#8f8c8a" stroke="#8f8c8a" stroke-width="0.399">0</text><text transform="matrix(0.1862,0,0,0.1777,309.37,492.55)" font-size="100" fill="#8f8c8a" stroke="#8f8c8a" stroke-width="0.330">.</text><text transform="matrix(0.1335,0,0,0.1212,303.33,492.80)" font-size="100" fill="#8f8c8a" stroke="#8f8c8a" stroke-width="0.472">1</text>
<text transform="matrix(0.1386,0,0,0.1578,322.53,464.99)" font-size="100" fill="#8f8c8a" stroke="#8f8c8a" stroke-width="0.406">%</text><text transform="matrix(0.1864,0,0,0.1215,313.39,465.08)" font-size="100" fill="#8f8c8a" stroke="#8f8c8a" stroke-width="0.399">0</text><text transform="matrix(0.1862,0,0,0.1777,309.37,464.95)" font-size="100" fill="#8f8c8a" stroke="#8f8c8a" stroke-width="0.330">.</text><text transform="matrix(0.1821,0,0,0.1133,301.10,465.20)" font-size="100" fill="#8f8c8a" stroke="#8f8c8a" stroke-width="0.418">2</text>
<text x="364.8" y="547.0" font-size="16.3" fill="#8f8c8a" stroke="#8f8c8a" stroke-width="0.1" textLength="23.9" lengthAdjust="spacingAndGlyphs">Apr</text>
<text x="403.8" y="547.0" font-size="16.3" fill="#8f8c8a" stroke="#8f8c8a" stroke-width="0.1" textLength="24.9" lengthAdjust="spacingAndGlyphs">Aug</text>
<text x="444.4" y="547.0" font-size="16.3" fill="#8f8c8a" stroke="#8f8c8a" stroke-width="0.1" textLength="23.8" lengthAdjust="spacingAndGlyphs">Dec</text>
<text x="483.9" y="547.0" font-size="16.3" fill="#8f8c8a" stroke="#8f8c8a" stroke-width="0.1" textLength="23.9" lengthAdjust="spacingAndGlyphs">Apr</text>
<line x1="386.4" y1="442.9" x2="386.4" y2="532.1" stroke="#ff2a2a" stroke-width="1.4"/>
<polyline points="347.15,515.30 357.23,517.70 366.66,514.10 376.74,517.70 386.50,497.30 396.58,512.00 406.34,527.90 416.42,512.20 426.50,509.50 436.26,500.00 446.34,488.30 456.09,495.10 466.17,510.70 476.26,496.90 485.36,484.70 495.44,459.00 505.20,452.90 515.28,447.30" fill="none" stroke="#c32b30" stroke-width="3.15" stroke-linejoin="round" stroke-linecap="butt"/>
<text x="570.7" y="437.5" font-size="13.75" fill="#8f8c8a" stroke="#8f8c8a" stroke-width="0.1" textLength="45.3" lengthAdjust="spacingAndGlyphs">Services</text>
<line x1="567.1" y1="527.3" x2="752.6" y2="527.3" stroke="#9c9895" stroke-width="1.3"/>
<text transform="matrix(0.1386,0,0,0.1578,550.83,532.49)" font-size="100" fill="#8f8c8a" stroke="#8f8c8a" stroke-width="0.406">%</text><text transform="matrix(0.1864,0,0,0.1215,541.69,532.58)" font-size="100" fill="#8f8c8a" stroke="#8f8c8a" stroke-width="0.399">0</text><text transform="matrix(0.1862,0,0,0.1777,537.67,532.45)" font-size="100" fill="#8f8c8a" stroke="#8f8c8a" stroke-width="0.330">.</text><text transform="matrix(0.1864,0,0,0.1215,528.89,532.58)" font-size="100" fill="#8f8c8a" stroke="#8f8c8a" stroke-width="0.399">0</text>
<text transform="matrix(0.1386,0,0,0.1578,550.83,509.46)" font-size="100" fill="#8f8c8a" stroke="#8f8c8a" stroke-width="0.406">%</text><text transform="matrix(0.1864,0,0,0.1215,541.69,509.55)" font-size="100" fill="#8f8c8a" stroke="#8f8c8a" stroke-width="0.399">0</text><text transform="matrix(0.1862,0,0,0.1777,537.67,509.42)" font-size="100" fill="#8f8c8a" stroke="#8f8c8a" stroke-width="0.330">.</text><text transform="matrix(0.1335,0,0,0.1212,531.63,509.67)" font-size="100" fill="#8f8c8a" stroke="#8f8c8a" stroke-width="0.472">1</text>
<text transform="matrix(0.1386,0,0,0.1578,550.83,486.43)" font-size="100" fill="#8f8c8a" stroke="#8f8c8a" stroke-width="0.406">%</text><text transform="matrix(0.1864,0,0,0.1215,541.69,486.52)" font-size="100" fill="#8f8c8a" stroke="#8f8c8a" stroke-width="0.399">0</text><text transform="matrix(0.1862,0,0,0.1777,537.67,486.39)" font-size="100" fill="#8f8c8a" stroke="#8f8c8a" stroke-width="0.330">.</text><text transform="matrix(0.1821,0,0,0.1133,529.40,486.64)" font-size="100" fill="#8f8c8a" stroke="#8f8c8a" stroke-width="0.418">2</text>
<text transform="matrix(0.1386,0,0,0.1578,550.83,463.40)" font-size="100" fill="#8f8c8a" stroke="#8f8c8a" stroke-width="0.406">%</text><text transform="matrix(0.1864,0,0,0.1215,541.69,463.49)" font-size="100" fill="#8f8c8a" stroke="#8f8c8a" stroke-width="0.399">0</text><text transform="matrix(0.1862,0,0,0.1777,537.67,463.36)" font-size="100" fill="#8f8c8a" stroke="#8f8c8a" stroke-width="0.330">.</text><text transform="matrix(0.1767,0,0,0.1637,529.35,465.85)" font-size="100" fill="#8f8c8a" stroke="#8f8c8a" stroke-width="0.353">3</text>
<text x="593.1" y="547.0" font-size="16.3" fill="#8f8c8a" stroke="#8f8c8a" stroke-width="0.1" textLength="23.9" lengthAdjust="spacingAndGlyphs">Apr</text>
<text x="632.1" y="547.0" font-size="16.3" fill="#8f8c8a" stroke="#8f8c8a" stroke-width="0.1" textLength="24.9" lengthAdjust="spacingAndGlyphs">Aug</text>
<text x="672.7" y="547.0" font-size="16.3" fill="#8f8c8a" stroke="#8f8c8a" stroke-width="0.1" textLength="23.8" lengthAdjust="spacingAndGlyphs">Dec</text>
<text x="712.2" y="547.0" font-size="16.3" fill="#8f8c8a" stroke="#8f8c8a" stroke-width="0.1" textLength="23.9" lengthAdjust="spacingAndGlyphs">Apr</text>
<line x1="614.5" y1="442.9" x2="614.5" y2="532.1" stroke="#ff2a2a" stroke-width="1.4"/>
<polyline points="575.45,526.90 585.53,521.80 594.96,521.00 605.04,527.10 614.80,528.10 624.88,521.40 634.64,510.70 644.72,509.20 654.80,505.90 664.56,503.40 674.64,497.50 684.39,496.50 694.47,496.30 704.56,490.20 713.66,480.40 723.74,466.30 733.50,457.10 743.58,447.60" fill="none" stroke="#c32b30" stroke-width="3.15" stroke-linejoin="round" stroke-linecap="butt"/>
<text x="810.5" y="437.5" font-size="13.75" fill="#8f8c8a" stroke="#8f8c8a" stroke-width="0.1" textLength="83.5" lengthAdjust="spacingAndGlyphs">Transportation</text>
<line x1="806.4" y1="489.1" x2="991.9" y2="489.1" stroke="#9c9895" stroke-width="1.3"/>
<text transform="matrix(0.1386,0,0,0.1578,790.43,494.29)" font-size="100" fill="#8f8c8a" stroke="#8f8c8a" stroke-width="0.406">%</text><text transform="matrix(0.1864,0,0,0.1215,781.29,494.38)" font-size="100" fill="#8f8c8a" stroke="#8f8c8a" stroke-width="0.399">0</text><text transform="matrix(0.1862,0,0,0.1777,777.27,494.25)" font-size="100" fill="#8f8c8a" stroke="#8f8c8a" stroke-width="0.330">.</text><text transform="matrix(0.1864,0,0,0.1215,768.49,494.38)" font-size="100" fill="#8f8c8a" stroke="#8f8c8a" stroke-width="0.399">0</text>
<text transform="matrix(0.1386,0,0,0.1578,790.43,456.59)" font-size="100" fill="#8f8c8a" stroke="#8f8c8a" stroke-width="0.406">%</text><text transform="matrix(0.1864,0,0,0.1215,781.29,456.68)" font-size="100" fill="#8f8c8a" stroke="#8f8c8a" stroke-width="0.399">0</text><text transform="matrix(0.1862,0,0,0.1777,777.27,456.55)" font-size="100" fill="#8f8c8a" stroke="#8f8c8a" stroke-width="0.330">.</text><text transform="matrix(0.1864,0,0,0.1215,768.49,456.68)" font-size="100" fill="#8f8c8a" stroke="#8f8c8a" stroke-width="0.399">0</text><text transform="matrix(0.1335,0,0,0.1212,762.43,456.80)" font-size="100" fill="#8f8c8a" stroke="#8f8c8a" stroke-width="0.472">1</text>
<text transform="matrix(0.1386,0,0,0.1578,790.43,531.99)" font-size="100" fill="#8f8c8a" stroke="#8f8c8a" stroke-width="0.406">%</text><text transform="matrix(0.1864,0,0,0.1215,781.29,532.08)" font-size="100" fill="#8f8c8a" stroke="#8f8c8a" stroke-width="0.399">0</text><text transform="matrix(0.1862,0,0,0.1777,777.27,531.95)" font-size="100" fill="#8f8c8a" stroke="#8f8c8a" stroke-width="0.330">.</text><text transform="matrix(0.1864,0,0,0.1215,768.49,532.08)" font-size="100" fill="#8f8c8a" stroke="#8f8c8a" stroke-width="0.399">0</text><text transform="matrix(0.1335,0,0,0.1212,762.43,532.20)" font-size="100" fill="#8f8c8a" stroke="#8f8c8a" stroke-width="0.472">1</text><rect x="758.50" y="527.60" width="4.1" height="1.3" fill="#8f8c8a"/>
<text x="832.4" y="547.0" font-size="16.3" fill="#8f8c8a" stroke="#8f8c8a" stroke-width="0.1" textLength="23.9" lengthAdjust="spacingAndGlyphs">Apr</text>
<text x="871.4" y="547.0" font-size="16.3" fill="#8f8c8a" stroke="#8f8c8a" stroke-width="0.1" textLength="24.9" lengthAdjust="spacingAndGlyphs">Aug</text>
<text x="912.0" y="547.0" font-size="16.3" fill="#8f8c8a" stroke="#8f8c8a" stroke-width="0.1" textLength="23.8" lengthAdjust="spacingAndGlyphs">Dec</text>
<text x="951.5" y="547.0" font-size="16.3" fill="#8f8c8a" stroke="#8f8c8a" stroke-width="0.1" textLength="23.9" lengthAdjust="spacingAndGlyphs">Apr</text>
<line x1="854.4" y1="442.9" x2="854.4" y2="532.1" stroke="#ff2a2a" stroke-width="1.4"/>
<polyline points="814.75,489.20 824.83,492.00 834.26,501.20 844.34,520.80 854.10,527.50 864.18,519.60 873.94,512.00 884.02,507.90 894.10,503.40 903.86,501.80 913.94,500.60 923.69,498.10 933.77,494.20 943.86,489.90 952.96,479.80 963.04,470.40 972.80,461.80 982.88,447.10" fill="none" stroke="#c32b30" stroke-width="3.15" stroke-linejoin="round" stroke-linecap="butt"/>
<text x="110.0" y="568.7" font-size="13.75" fill="#8f8c8a" stroke="#8f8c8a" stroke-width="0.1" textLength="149.7" lengthAdjust="spacingAndGlyphs">Women&#39;s and girls&#39; apparel</text>
<line x1="105.9" y1="588.2" x2="291.4" y2="588.2" stroke="#9c9895" stroke-width="1.3"/>
<text transform="matrix(0.1386,0,0,0.1578,89.73,593.39)" font-size="100" fill="#8f8c8a" stroke="#8f8c8a" stroke-width="0.406">%</text><text transform="matrix(0.1864,0,0,0.1215,80.59,593.48)" font-size="100" fill="#8f8c8a" stroke="#8f8c8a" stroke-width="0.399">0</text><text transform="matrix(0.1862,0,0,0.1777,76.57,593.35)" font-size="100" fill="#8f8c8a" stroke="#8f8c8a" stroke-width="0.330">.</text><text transform="matrix(0.1864,0,0,0.1215,67.79,593.48)" font-size="100" fill="#8f8c8a" stroke="#8f8c8a" stroke-width="0.399">0</text>
<text transform="matrix(0.1386,0,0,0.1578,89.73,634.19)" font-size="100" fill="#8f8c8a" stroke="#8f8c8a" stroke-width="0.406">%</text><text transform="matrix(0.1864,0,0,0.1215,80.59,634.28)" font-size="100" fill="#8f8c8a" stroke="#8f8c8a" stroke-width="0.399">0</text><text transform="matrix(0.1862,0,0,0.1777,76.57,634.15)" font-size="100" fill="#8f8c8a" stroke="#8f8c8a" stroke-width="0.330">.</text><text transform="matrix(0.1614,0,0,0.1505,68.96,636.35)" font-size="100" fill="#8f8c8a" stroke="#8f8c8a" stroke-width="0.385">5</text><rect x="64.80" y="629.80" width="4.1" height="1.3" fill="#8f8c8a"/>
<text x="131.9" y="678.2" font-size="16.3" fill="#8f8c8a" stroke="#8f8c8a" stroke-width="0.1" textLength="23.9" lengthAdjust="spacingAndGlyphs">Apr</text>
<text x="170.9" y="678.2" font-size="16.3" fill="#8f8c8a" stroke="#8f8c8a" stroke-width="0.1" textLength="24.9" lengthAdjust="spacingAndGlyphs">Aug</text>
<text x="211.5" y="678.2" font-size="16.3" fill="#8f8c8a" stroke="#8f8c8a" stroke-width="0.1" textLength="23.8" lengthAdjust="spacingAndGlyphs">Dec</text>
<text x="251.0" y="678.2" font-size="16.3" fill="#8f8c8a" stroke="#8f8c8a" stroke-width="0.1" textLength="23.9" lengthAdjust="spacingAndGlyphs">Apr</text>
<line x1="153.5" y1="574.1" x2="153.5" y2="663.3" stroke="#ff2a2a" stroke-width="1.4"/>
<polyline points="114.25,587.90 124.33,578.10 133.76,597.00 143.84,637.70 153.60,658.90 163.68,654.00 173.44,646.60 183.52,642.60 193.60,640.50 203.36,645.90 213.44,647.10 223.19,638.10 233.27,614.80 243.36,612.90 252.46,633.70 262.54,640.50 272.30,624.20 282.38,614.80" fill="none" stroke="#1f4f9c" stroke-width="3.15" stroke-linejoin="round" stroke-linecap="butt"/>
</svg></body></html>
